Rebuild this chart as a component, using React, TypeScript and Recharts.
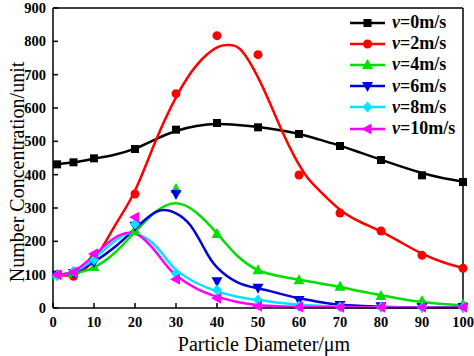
import React from "react";
import {
  ComposedChart,
  Line,
  Scatter,
  XAxis,
  YAxis,
  ReferenceLine,
  Legend,
} from "recharts";

const xTicks = [0, 10, 20, 30, 40, 50, 60, 70, 80, 90, 100];
const yTicks = [0, 100, 200, 300, 400, 500, 600, 700, 800, 900];
const speeds = ["0", "2", "4", "6", "8", "10"];

// measured points
const pts0 = [[1, 431], [5, 437], [10, 449], [20, 477], [30, 535], [40, 555], [50, 542], [60, 522], [70, 486], [80, 444], [90, 398], [100, 378]];
const pts2 = [[1, 100], [5, 95], [10, 150], [20, 342], [30, 643], [40, 817], [50, 760], [60, 399], [70, 285], [80, 231], [90, 158], [100, 119]];
const pts4 = [[1, 100], [5, 104], [10, 123], [20, 232], [30, 357], [40, 222], [50, 113], [60, 83], [70, 64], [80, 36], [90, 21], [100, 11]];
const pts6 = [[1, 100], [5, 105], [10, 138], [20, 247], [30, 342], [40, 80], [50, 61], [60, 24], [70, 9], [80, 5], [90, 3], [100, 3]];
const pts8 = [[1, 97], [5, 110], [10, 145], [20, 252], [30, 103], [40, 54], [50, 24], [60, 5], [70, 3], [80, 2], [90, 2], [100, 2]];
const pts10 = [[1, 100], [5, 108], [10, 163], [20, 272], [30, 86], [40, 29], [50, 5], [60, 3], [70, 2], [80, 2], [90, 2], [100, 2]];

// fitted curves
const fit0 = [[0, 430], [5, 437], [10, 448], [15, 460], [20, 478], [25, 506], [30, 531], [35, 546], [40, 552], [45, 549], [50, 543], [55, 534], [60, 522], [65, 505], [70, 487], [75, 466], [80, 445], [85, 424], [90, 405], [95, 390], [100, 379]];
const fit2 = [[0, 100], [5, 100], [10, 145], [15, 245], [20, 352], [25, 500], [30, 632], [35, 728], [40, 782], [43, 789], [46, 772], [50, 692], [53, 612], [56, 527], [59, 452], [62, 392], [65, 352], [70, 295], [75, 258], [80, 229], [85, 196], [90, 163], [95, 138], [100, 120]];
const fit4 = [[0, 100], [5, 104], [10, 122], [15, 165], [20, 228], [25, 288], [30, 314], [35, 286], [40, 224], [45, 156], [50, 114], [55, 96], [60, 85], [65, 74], [70, 63], [75, 50], [80, 38], [85, 27], [90, 18], [95, 12], [100, 8]];
const fit6 = [[0, 100], [5, 107], [10, 138], [15, 182], [20, 238], [24, 280], [27, 294], [30, 284], [33.5, 248], [37, 176], [40, 122], [45, 77], [50, 59], [55, 44], [60, 29], [65, 18], [70, 10], [80, 4], [90, 2], [100, 2]];
const fit8 = [[0, 97], [5, 108], [10, 148], [15, 200], [18.5, 224], [21, 220], [24, 198], [27, 158], [30, 115], [35, 75], [40, 50], [45, 34], [50, 24], [55, 16], [60, 10], [70, 4], [80, 2], [100, 1]];
const fit10 = [[0, 97], [5, 110], [10, 158], [15, 210], [18.5, 226], [21, 218], [24, 184], [27, 138], [30, 98], [35, 58], [40, 34], [45, 18], [50, 9], [55, 5], [60, 3], [70, 2], [100, 1]];

const colors = ["#000000", "#ff0000", "#00e000", "#0000dd", "#00e5ff", "#ff00ff"];
const shapes = ["square", "circle", "up", "down", "diamond", "left"];
const pointSets = [pts0, pts2, pts4, pts6, pts8, pts10];
const fitSets = [fit0, fit2, fit4, fit6, fit8, fit10];

const toRows = (arr: number[][]) => arr.map(([x, y]) => ({ x, y }));

const font = "Liberation Serif";

function marker(shape: string, cx: number, cy: number, color: string) {
  switch (shape) {
    case "square":
      return <rect x={cx - 4} y={cy - 4} width={8} height={8} fill={color} />;
    case "circle":
      return <circle cx={cx} cy={cy} r={4.5} fill={color} />;
    case "up":
      return <polygon points={`${cx},${cy - 6} ${cx - 5.5},${cy + 4} ${cx + 5.5},${cy + 4}`} fill={color} />;
    case "down":
      return <polygon points={`${cx},${cy + 6} ${cx - 5.5},${cy - 4} ${cx + 5.5},${cy - 4}`} fill={color} />;
    case "diamond":
      return <polygon points={`${cx},${cy - 5.5} ${cx + 5},${cy} ${cx},${cy + 5.5} ${cx - 5},${cy}`} fill={color} />;
    default:
      return <polygon points={`${cx - 6},${cy} ${cx + 4},${cy - 5.5} ${cx + 4},${cy + 5.5}`} fill={color} />;
  }
}

const LegendBox = () => (
  <div style={{ fontFamily: font, fontWeight: "bold", fontSize: 18, color: "#000" }}>
    {speeds.map((s, i) => (
      <div key={s} style={{ display: "flex", alignItems: "center", height: 21.2 }}>
        <svg width={40} height={14} style={{ marginRight: 4 }}>
          <line x1={2} y1={7} x2={37} y2={7} stroke={colors[i]} strokeWidth={2.5} />
          {marker(shapes[i], 19.5, 7, colors[i])}
        </svg>
        <span>
          <i>ν</i>={s}m/s
        </span>
      </div>
    ))}
  </div>
);

const XLabel = () => (
  <text x={264} y={351} textAnchor="middle" fontFamily={font} fontSize={20} fill="#000">
    Particle Diameter/μm
  </text>
);

const YLabel = () => (
  <text x={17} y={172} transform="rotate(-90 17 172)" textAnchor="middle" dominantBaseline="central" fontFamily={font} fontSize={20} fill="#000">
    Number Concentration/unit
  </text>
);

export default function App() {
  const tickStyle = { fontFamily: font, fontWeight: "bold", fontSize: 14.5, fill: "#000" };
  return (
    <div style={{ position: "absolute", left: 0, top: 0, background: "#fff" }}>
      <ComposedChart width={474} height={356} margin={{ top: 8, right: 11, left: 0, bottom: 0 }}>
        <XAxis
          dataKey="x"
          type="number"
          domain={[0, 100]}
          ticks={xTicks}
          interval={0}
          height={48}
          allowDuplicatedCategory={false}
          tick={tickStyle}
          tickSize={-5}
          tickMargin={14}
          stroke="#000"
          strokeWidth={1.5}
          label={<XLabel />}
        />
        <YAxis
          type="number"
          domain={[0, 900]}
          ticks={yTicks}
          interval={0}
          width={53}
          tick={tickStyle}
          tickSize={-5}
          tickMargin={12}
          stroke="#000"
          strokeWidth={1.5}
          label={<YLabel />}
        />
        <ReferenceLine y={900} stroke="#000" strokeWidth={1.5} />
        <ReferenceLine x={100} stroke="#000" strokeWidth={1.5} />
        {fitSets.map((f, i) => (
          <Line
            key={`fit-${i}`}
            data={toRows(f)}
            dataKey="y"
            type="natural"
            stroke={colors[i]}
            strokeWidth={2.5}
            dot={false}
            activeDot={false}
            isAnimationActive={false}
          />
        ))}
        {pointSets.map((p, i) => (
          <Scatter
            key={`pts-${i}`}
            data={toRows(p)}
            dataKey="y"
            fill={colors[i]}
            isAnimationActive={false}
            shape={(props: any) => marker(shapes[i], props.cx, props.cy, colors[i])}
          />
        ))}
        <Legend
          layout="vertical"
          align="center"
          verticalAlign="middle"
          wrapperStyle={{ position: "absolute", left: 348, top: 12, width: 125 }}
          content={() => <LegendBox />}
        />
      </ComposedChart>
    </div>
  );
}
